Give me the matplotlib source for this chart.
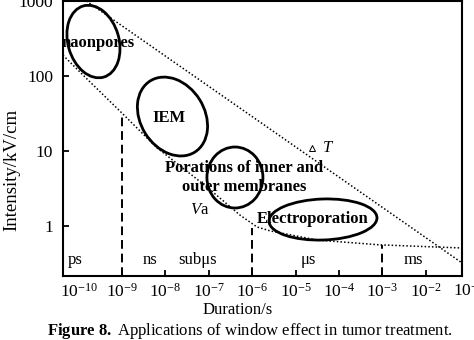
import matplotlib
matplotlib.use("Agg")
import matplotlib.pyplot as plt
import numpy as np
from matplotlib.patches import Ellipse
from matplotlib.transforms import ScaledTranslation, blended_transform_factory

plt.rcParams['font.family'] = ['Liberation Serif', 'DejaVu Serif']
plt.rcParams['mathtext.fontset'] = 'custom'
plt.rcParams['mathtext.rm'] = 'Liberation Serif'
plt.rcParams['mathtext.it'] = 'Liberation Serif:italic'
plt.rcParams['mathtext.bf'] = 'Liberation Serif:bold'

# ---- data ----
upper_t = [1.5e-10, 6.5e-2]
upper_E = [1000, 0.33]

lower_t = [4.3e-11, 1.25e-10, 9.4e-10, 6.4e-9, 9.1e-8, 5.2e-7, 1.29e-6, 2.6e-6, 3.1e-5, 8.9e-4, 6.2e-2]
lower_E = [190, 103, 33, 11, 3.3, 1.40, 0.97, 0.86, 0.65, 0.56, 0.51]

divider_t = [1e-9, 1e-6, 1e-3]
divider_top = [31, 0.94, 0.56]

region_labels = ['ps', 'ns', 'subμs', 'μs', 'ms']
region_t = [8.1e-11, 4.4e-9, 5.6e-8, 1.94e-5, 5.1e-3]
region_E = 0.352

ellipse_names = ['naonpores', 'IEM', 'Porations', 'Electroporation']
ellipse_t = [2.18e-10, 1.45e-8, 4.0e-7, 4.3e-5]
ellipse_E = [288, 28.8, 4.43, 1.22]
ellipse_w_px = [51, 64, 56, 108]
ellipse_h_px = [74, 84, 61, 41]
ellipse_angle = [16, 32, 0, 2]

x_ticks = [1e-10, 1e-9, 1e-8, 1e-7, 1e-6, 1e-5, 1e-4, 1e-3, 1e-2]
x_ticklabels = ['$10^{-10}$', '$10^{-9}$', '$10^{-8}$', '$10^{-7}$', '$10^{-6}$',
                '$10^{-5}$', '$10^{-4}$', '$10^{-3}$', '$10^{-2}$']
y_ticks = [1, 10, 100, 1000]
y_ticklabels = ['1', '10', '100', '1000']

T_point = (2.4e-5, 10.96)

# ---- figure ----
fig = plt.figure(figsize=(4.74, 3.40), dpi=100)
ax = fig.add_axes([63/474, 64/340, 399/474, 275/340])
ax.set_xscale('log')
ax.set_yscale('log')
ax.set_xlim(10**-10.364, 10**-1.16)
ax.set_ylim(10**-0.667, 1000)

for s in ax.spines.values():
    s.set_linewidth(1.5)

ax.set_xticks(x_ticks)
ax.set_xticklabels(x_ticklabels, fontsize=12.5)
ax.set_yticks(y_ticks)
ax.set_yticklabels(y_ticklabels, fontsize=12.5)
ax.minorticks_off()
ax.tick_params(axis='both', direction='in', length=4, width=1.3)
ax.tick_params(axis='x', pad=5)
ax.tick_params(axis='y', pad=7)
ax.xaxis.get_major_ticks()[0].tick1line.set_visible(False)

# extra 10^-1 label beyond the axis
trans_x = blended_transform_factory(ax.transData, ax.transAxes)
ax.text(1e-1, -0.055, '$10^{-1}$', transform=trans_x, ha='center', va='center',
        fontsize=12.5, clip_on=False)

# dotted lines
ax.plot(upper_t, upper_E, color='black', lw=1.1, ls=(0, (1, 1.4)))
ax.plot(lower_t, lower_E, color='black', lw=1.1, ls=(0, (1, 1.4)))

# dashed dividers
for t, top in zip(divider_t, divider_top):
    ax.plot([t, t], [10**-0.667, top], color='black', lw=1.4, ls=(0, (4.5, 2.5)))

# ellipses
for t, E, w, h, a in zip(ellipse_t, ellipse_E, ellipse_w_px, ellipse_h_px, ellipse_angle):
    tr = fig.dpi_scale_trans + ScaledTranslation(t, E, ax.transData)
    e = Ellipse((0, 0), w/100, h/100, angle=a, transform=tr, fill=False,
                edgecolor='black', lw=2.0)
    ax.add_patch(e)

# labels
bold = dict(fontsize=12, fontweight='bold', ha='center', va='center')
ax.text(2.85e-10, 275, 'naonpores', clip_on=False, **bold)
ax.text(1.2e-8, 27.5, 'IEM', **bold)
ax.text(6.5e-7, 6.0, 'Porations of inner and', **bold)
ax.text(6.5e-7, 3.35, 'outer membranes', **bold)
ax.text(2.5e-5, 1.24, 'Electroporation', **bold)

ax.text(6.2e-8, 1.63, '$V$a', fontsize=12, ha='center', va='center')
ax.plot([T_point[0]], [T_point[1]], marker='^', ms=4, mfc='none', mec='black', mew=0.7)
ax.text(5.6e-5, 10.8, '$T$', fontsize=12, ha='center', va='center')

for lab, t in zip(region_labels, region_t):
    ax.text(t, region_E, lab, fontsize=12, ha='center', va='center')

fig.text(12/474, 170/340, 'Intensity/kV/cm', rotation=90, ha='center', va='center', fontsize=13.5)
fig.text(238/474, 30/340, 'Duration/s', ha='center', va='center', fontsize=12)
fig.text(250/474, 9/340, r'$\mathbf{Figure\ 8.}$ Applications of window effect in tumor treatment.',
         ha='center', va='center', fontsize=12)

fig.savefig('out.png', dpi=100)
